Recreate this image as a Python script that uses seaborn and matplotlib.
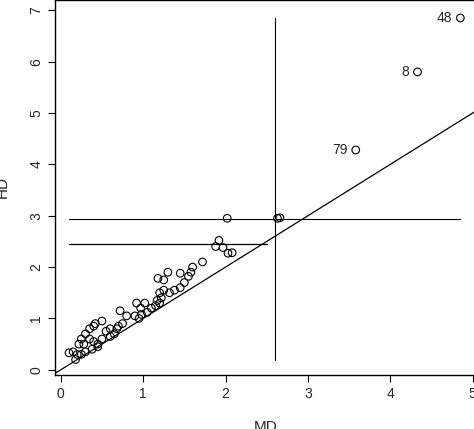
import matplotlib
matplotlib.use("Agg")
import matplotlib.pyplot as plt
import seaborn as sns
import numpy as np
import pandas as pd

md = [4.85,4.33,3.58,2.02,2.63,2.66,1.92,1.88,1.97,2.03,2.08,1.72,1.6,1.58,1.55,1.3,1.18,1.45,1.25,1.5,1.45,1.38,1.25,1.2,1.32,1.22,1.17,1.2,1.15,1.1,1.02,0.92,0.97,1.05,0.9,0.95,0.98,0.8,0.72,0.75,0.7,0.68,0.6,0.55,0.5,0.42,0.4,0.35,0.3,0.35,0.25,0.28,0.22,0.4,0.45,0.5,0.38,0.3,0.25,0.2,0.18,0.1,0.15,0.45,0.6,0.65]
hd = [6.85,5.8,4.28,2.95,2.95,2.96,2.52,2.4,2.38,2.27,2.28,2.1,2.0,1.9,1.82,1.9,1.78,1.88,1.75,1.7,1.6,1.55,1.55,1.5,1.5,1.4,1.35,1.3,1.25,1.2,1.3,1.3,1.2,1.12,1.05,1.0,1.08,1.05,1.15,0.9,0.85,0.8,0.8,0.75,0.95,0.9,0.85,0.8,0.7,0.6,0.6,0.5,0.5,0.55,0.5,0.6,0.4,0.35,0.3,0.3,0.2,0.33,0.35,0.45,0.65,0.7]
labels = {"48": (4.85, 6.85), "8": (4.33, 5.8), "79": (3.58, 4.28)}
df = pd.DataFrame({"MD": md, "HD": hd})

sns.set_style("white")
plt.rcParams["font.family"] = ["Liberation Sans", "DejaVu Sans"]
fig = plt.figure(figsize=(4.74, 4.29), dpi=100)
ax = fig.add_axes([0.116, 0.126, 0.89, 0.874])
sns.scatterplot(data=df, x="MD", y="HD", ax=ax, facecolor="none", edgecolor="black", linewidth=0.8, s=30, marker="o")
ax.plot([-0.5, 6], [-0.5, 6], color="black", lw=0.9)
ax.plot([2.6, 2.6], [0.2, 6.85], color="black", lw=0.8)
ax.plot([0.1, 4.85], [2.93, 2.93], color="black", lw=0.8)
ax.plot([0.1, 2.5], [2.45, 2.45], color="black", lw=0.9)
for t, (x, y) in labels.items():
    ax.text(x - 0.1, y, t, ha="right", va="center", fontsize=10)
ax.set_xlim(-0.07, 5.05)
ax.set_ylim(-0.1, 7.2)
ax.set_xticks(range(6))
ax.set_yticks(range(8))
ax.tick_params(direction="out", length=5, color="black", labelsize=10, left=True, bottom=True)
for lab in ax.get_yticklabels():
    lab.set_rotation(90); lab.set_va("center")
for s in ax.spines.values():
    s.set_color("black"); s.set_linewidth(1)
ax.set_xlabel("MD", fontsize=11, labelpad=14)
ax.set_ylabel("HD", fontsize=11, labelpad=14)
fig.savefig("out.png", dpi=100)
